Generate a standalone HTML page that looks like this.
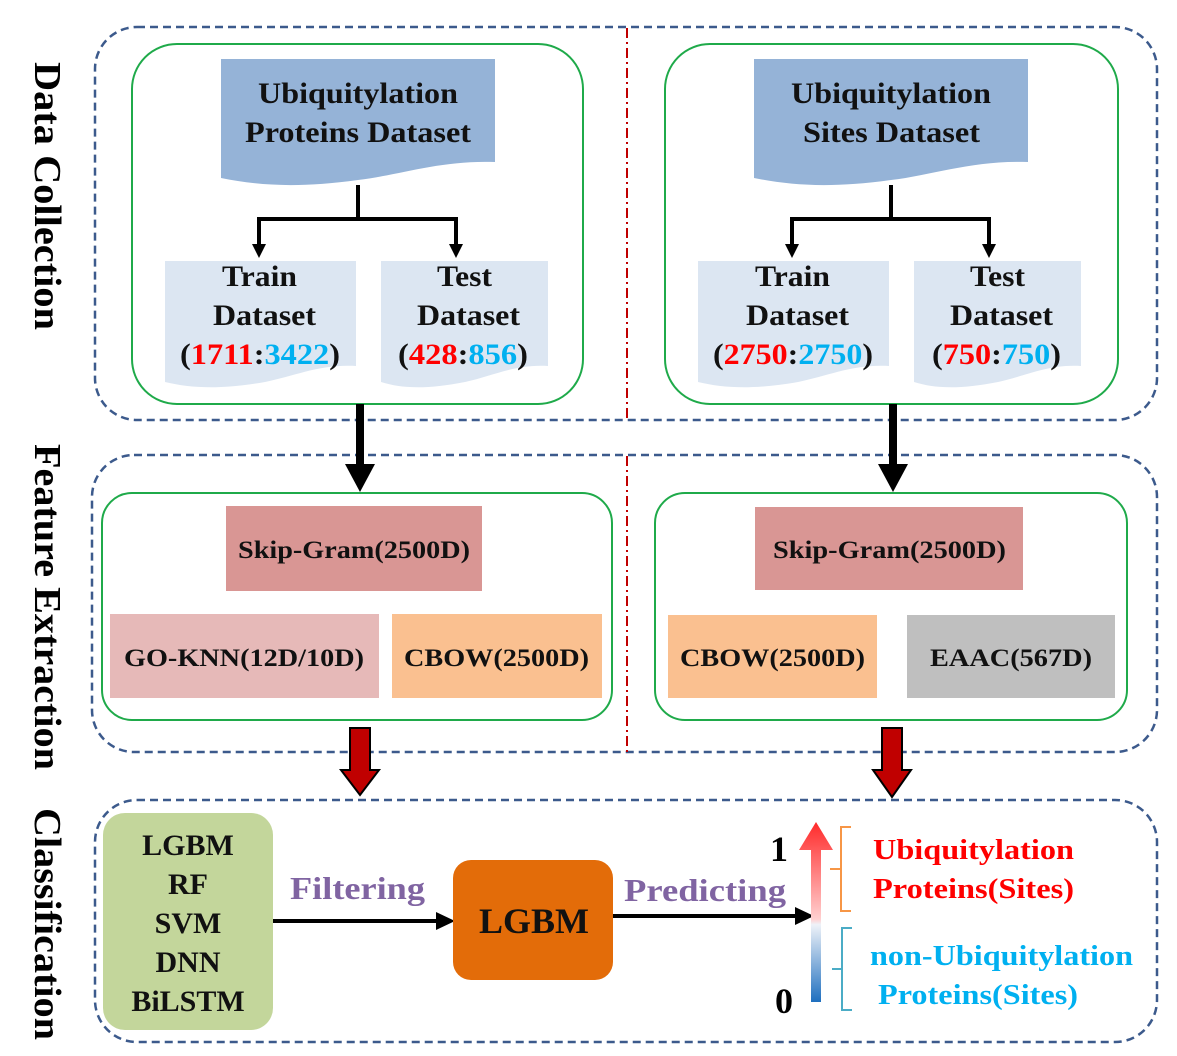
<!DOCTYPE html>
<html><head><meta charset="utf-8"><style>body{margin:0;background:#fff}svg{display:block}text{font-family:"Liberation Serif",serif;font-weight:bold}</style></head><body>
<svg width="1177" height="1056" viewBox="0 0 1177 1056" xmlns="http://www.w3.org/2000/svg">
<defs>
<linearGradient id="g" x1="0" y1="1" x2="0" y2="0"><stop offset="0" stop-color="#1f6fbf"/><stop offset="0.43" stop-color="#eef2f8"/><stop offset="0.46" stop-color="#ffd0d0"/><stop offset="1" stop-color="#ff2a2a"/></linearGradient>
</defs>
<g fill="none" stroke="#3c5a8c" stroke-width="2.5" stroke-dasharray="8,5">
<rect x="95" y="27" width="1062" height="393" rx="42"/>
<rect x="92" y="455" width="1065" height="297" rx="42"/>
<rect x="95" y="800" width="1062" height="242" rx="42"/>
</g>
<g stroke="#c00000" stroke-width="2" stroke-dasharray="10,4,2,4">
<line x1="627" y1="28" x2="627" y2="420"/><line x1="627" y1="456" x2="627" y2="752"/>
</g>
<g font-size="38" fill="#000" lengthAdjust="spacingAndGlyphs">
<text transform="translate(35,62) rotate(90)" textLength="268" lengthAdjust="spacingAndGlyphs">Data Collection</text>
<text transform="translate(35,444) rotate(90)" textLength="326" lengthAdjust="spacingAndGlyphs">Feature Extraction</text>
<text transform="translate(35,808) rotate(90)" textLength="232" lengthAdjust="spacingAndGlyphs">Classification</text>
</g>
<g fill="none" stroke="#1faa4a" stroke-width="2">
<rect x="132" y="44" width="451" height="360" rx="45"/>
<rect x="665" y="44" width="453" height="360" rx="45"/>
<rect x="102" y="493" width="510" height="227" rx="30"/>
<rect x="655" y="493" width="472" height="227" rx="30"/>
</g>
<g fill="#95b3d7">
<path d="M221 59H495V162C440 160 400 175 358 180C300 188 260 186 221 178Z"/>
<path d="M754 59H1028V162C973 160 933 175 891 180C833 188 793 186 754 178Z"/>
</g>
<g fill="#dce6f2">
<path d="M165 261H356V366C320 364 295 376 265 382C220 390 190 388 165 382Z"/>
<path d="M381 261H548V366C515 364 493 376 465 382C425 390 400 388 381 382Z"/>
<path d="M698 261H889V366C853 364 828 376 798 382C753 390 723 388 698 382Z"/>
<path d="M914 261H1081V366C1048 364 1026 376 998 382C958 390 933 388 914 382Z"/>
</g>
<g font-size="30" fill="#111">
<text x="258" y="103" textLength="200" lengthAdjust="spacingAndGlyphs">Ubiquitylation</text><text x="245" y="142" textLength="226" lengthAdjust="spacingAndGlyphs">Proteins Dataset</text>
<text x="791" y="103" textLength="200" lengthAdjust="spacingAndGlyphs">Ubiquitylation</text><text x="803" y="142" textLength="177" lengthAdjust="spacingAndGlyphs">Sites Dataset</text>
<text x="222" y="286" textLength="75" lengthAdjust="spacingAndGlyphs">Train</text><text x="213" y="325" textLength="103" lengthAdjust="spacingAndGlyphs">Dataset</text>
<text x="437" y="286" textLength="55" lengthAdjust="spacingAndGlyphs">Test</text><text x="417" y="325" textLength="103" lengthAdjust="spacingAndGlyphs">Dataset</text>
<text x="755" y="286" textLength="75" lengthAdjust="spacingAndGlyphs">Train</text><text x="746" y="325" textLength="103" lengthAdjust="spacingAndGlyphs">Dataset</text>
<text x="970" y="286" textLength="55" lengthAdjust="spacingAndGlyphs">Test</text><text x="950" y="325" textLength="103" lengthAdjust="spacingAndGlyphs">Dataset</text>
<text x="180" y="364" textLength="160" lengthAdjust="spacingAndGlyphs">(<tspan fill="#f00">1711</tspan>:<tspan fill="#00b0f0">3422</tspan>)</text>
<text x="398" y="364" textLength="130" lengthAdjust="spacingAndGlyphs">(<tspan fill="#f00">428</tspan>:<tspan fill="#00b0f0">856</tspan>)</text>
<text x="713" y="364" textLength="160" lengthAdjust="spacingAndGlyphs">(<tspan fill="#f00">2750</tspan>:<tspan fill="#00b0f0">2750</tspan>)</text>
<text x="932" y="364" textLength="129" lengthAdjust="spacingAndGlyphs">(<tspan fill="#f00">750</tspan>:<tspan fill="#00b0f0">750</tspan>)</text>
</g>
<g stroke="#000" stroke-width="4" fill="none">
<path d="M358 185V219M259 219H456M259 217V246M456 217V246"/>
<path d="M891 185V219M792 219H989M792 217V246M989 217V246"/>
<path d="M360 404V466M893 404V466" stroke-width="8"/>
<path d="M273 921H438M613 916H797"/>
</g>
<g fill="#000">
<path d="M252 244H266L259 258Z"/><path d="M449 244H463L456 258Z"/>
<path d="M785 244H799L792 258Z"/><path d="M982 244H996L989 258Z"/>
<path d="M345 464H375L360 492Z"/><path d="M878 464H908L893 492Z"/>
<path d="M436 912L455 921L436 930Z"/><path d="M795 907L814 916L795 925Z"/>
</g>
<g fill="#c00000" stroke="#000" stroke-width="2">
<path d="M350 728H370V770H379L360 795L341 770H350Z"/>
<path d="M882 728H902V770H911L892 797L873 770H882Z"/>
</g>
<rect x="226" y="506" width="256" height="85" fill="#d99694"/>
<rect x="110" y="614" width="269" height="84" fill="#e6b9b8"/>
<rect x="392" y="614" width="210" height="84" fill="#fac090"/>
<rect x="755" y="507" width="268" height="83" fill="#d99694"/>
<rect x="668" y="615" width="209" height="83" fill="#fac090"/>
<rect x="907" y="615" width="208" height="83" fill="#bfbfbf"/>
<g font-size="25" fill="#111">
<text x="238" y="558" textLength="232" lengthAdjust="spacingAndGlyphs">Skip-Gram(2500D)</text>
<text x="124" y="666" textLength="240" lengthAdjust="spacingAndGlyphs">GO-KNN(12D/10D)</text>
<text x="404" y="666" textLength="185" lengthAdjust="spacingAndGlyphs">CBOW(2500D)</text>
<text x="773" y="558" textLength="233" lengthAdjust="spacingAndGlyphs">Skip-Gram(2500D)</text>
<text x="680" y="666" textLength="185" lengthAdjust="spacingAndGlyphs">CBOW(2500D)</text>
<text x="930" y="666" textLength="162" lengthAdjust="spacingAndGlyphs">EAAC(567D)</text>
</g>
<rect x="103" y="813" width="170" height="217" rx="22" fill="#c3d69b"/>
<g font-size="30" text-anchor="middle" fill="#111">
<text x="188" y="855">LGBM</text><text x="188" y="894">RF</text><text x="188" y="933">SVM</text><text x="188" y="972">DNN</text><text x="188" y="1011">BiLSTM</text>
</g>
<rect x="453" y="860" width="160" height="120" rx="18" fill="#e36c09"/>
<text x="479" y="933" font-size="36" fill="#111" textLength="110" lengthAdjust="spacingAndGlyphs">LGBM</text>
<text x="290" y="899" font-size="32" fill="#8064a2" textLength="135" lengthAdjust="spacingAndGlyphs">Filtering</text>
<text x="624" y="901" font-size="32" fill="#8064a2" textLength="162" lengthAdjust="spacingAndGlyphs">Predicting</text>
<path d="M811 850H799L816 822L833 850H821V1002H811Z" fill="url(#g)"/>
<text x="779" y="861" font-size="36" text-anchor="middle" fill="#000">1</text>
<text x="784" y="1013" font-size="36" text-anchor="middle" fill="#000">0</text>
<path d="M851 827H841V911H851M841 869H830" fill="none" stroke="#f79646" stroke-width="2"/>
<path d="M852 928H842V1010H852M842 969H832" fill="none" stroke="#4bacc6" stroke-width="2"/>
<g font-size="28">
<text x="873" y="859" fill="#f00" textLength="201" lengthAdjust="spacingAndGlyphs">Ubiquitylation</text>
<text x="873" y="898" fill="#f00" textLength="201" lengthAdjust="spacingAndGlyphs">Proteins(Sites)</text>
<text x="870" y="965" fill="#00b0f0" textLength="263" lengthAdjust="spacingAndGlyphs">non-Ubiquitylation</text>
<text x="878" y="1004" fill="#00b0f0" textLength="200" lengthAdjust="spacingAndGlyphs">Proteins(Sites)</text>
</g>
</svg>
</body></html>
